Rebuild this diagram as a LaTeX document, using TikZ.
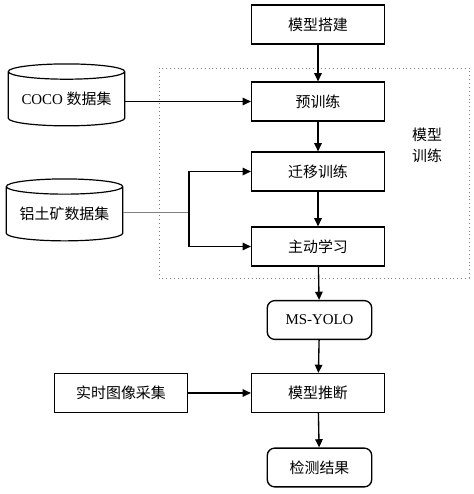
\documentclass[tikz,border=0pt]{standalone}
\usepackage{fontspec}
\setmainfont{Liberation Serif}
\newfontfamily\cjk{Noto Sans CJK SC}
\usetikzlibrary{shapes.geometric,arrows.meta}

\begin{document}
\begin{tikzpicture}[x=0.67pt, y=-0.67pt, font=\fontsize{10}{12}\selectfont,
	box/.style = {draw, line width=0.9pt, minimum width=89pt, minimum height=26pt, inner sep=0pt},
	rbox/.style = {box, rounded corners=5pt, minimum width=70pt},
	db/.style = {draw, line width=0.8pt, cylinder, shape border rotate=90, aspect=0.17, minimum width=78pt, minimum height=41.5pt, inner sep=0pt},
	arr/.style = {-{Triangle[length=5.5pt,width=5pt]}, line width=0.9pt}]

	\useasboundingbox (0,0) rectangle (474,494);

	% model training area
	\draw[gray, dotted, line width=0.6pt] (159,68) rectangle (469,278);
	\node[align=center, font=\fontsize{10}{14}\selectfont\cjk] (train) at (427,145) {模型\\训练};

	\node[box] (build) at (318,24.5) {\cjk 模型搭建};
	\node[box] (pre) at (318,101.5) {\cjk 预训练};
	\node[box] (tl) at (318,171.5) {\cjk 迁移训练};
	\node[box] (al) at (318,246.5) {\cjk 主动学习};
	\node[rbox] (ms) at (319.5,320) {MS-YOLO};
	\node[box] (inf) at (318,393) {\cjk 模型推断};
	\node[rbox] (res) at (319.5,467.5) {\cjk 检测结果};
	\node[box] (rt) at (121,393) {\cjk 实时图像采集};

	\node[db] (coco) at (66.5,99) {COCO {\cjk 数据集}};
	\node[db] (bx) at (64.5,214) {\cjk 铝土矿数据集};

	\coordinate (j) at (189,212);

	\draw[arr] (build) -- (pre);
	\draw[arr] (pre) -- (tl);
	\draw[arr] (tl) -- (al);
	\draw[arr] (al) -- (ms);
	\draw[arr] (ms) -- (inf);
	\draw[arr] (inf) -- (res);
	\draw[arr] (rt) -- (inf);
	\draw[arr] (coco.east |- pre) -- (pre);

	\draw[gray, line width=0.5pt] (bx.east |- j) -- (j);
	\draw[arr] (j) |- (tl);
	\draw[arr] (j) |- (al);

\end{tikzpicture}
\end{document}
